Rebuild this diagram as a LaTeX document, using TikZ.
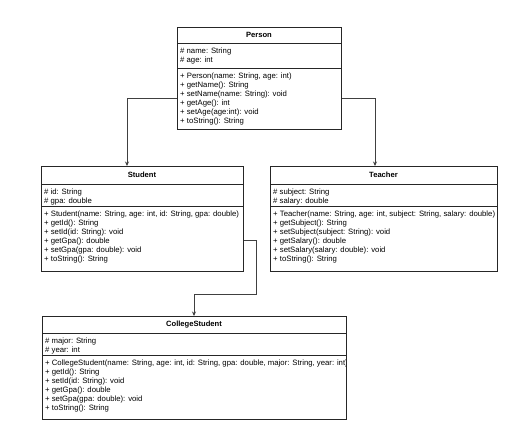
\documentclass[tikz,border=0pt]{standalone}
\usepackage{fontspec}
\setmainfont{Liberation Sans}
\usetikzlibrary{arrows.meta}
\tikzset{
  classbox/.style={draw=black!85, line width=0.7pt, anchor=north west, inner sep=0pt},
  divider/.style={draw=black!85, line width=0.7pt},
  title/.style={font=\fontsize{7.6}{9}\selectfont\bfseries, anchor=center, inner sep=0pt},
  members/.style={font=\fontsize{7.75}{9}\selectfont, anchor=north west, align=left, inner sep=0pt},
  conn/.style={draw=black!75, line width=0.7pt, -{Stealth[length=4.5pt,width=4pt]}},
}
\begin{document}
\begin{tikzpicture}[x=1pt,y=-1pt]
\useasboundingbox (0,0) rectangle (530,432);

% Person
\node[classbox, minimum width=164pt, minimum height=102pt] (person) at (177,27) {};
\draw[divider] (177,43) -- (341,43);
\draw[divider] (177,68) -- (341,68);
\node[title] (personT) at (259,35) {Person};
\node[members] (personA) at (180,47.5) {\# name: String\\\# age: int};
\node[members] (personM) at (180,72.5) {+ Person(name: String, age: int)\\+ getName(): String\\+ setName(name: String): void\\+ getAge(): int\\+ setAge(age:int): void\\+ toString(): String};

% Student
\node[classbox, minimum width=202pt, minimum height=105pt] (student) at (41,166) {};
\draw[divider] (41,184) -- (243,184);
\draw[divider] (41,206) -- (243,206);
\node[title] (studentT) at (142,175) {Student};
\node[members] (studentA) at (44,188.5) {\# id: String\\\# gpa: double};
\node[members] (studentM) at (44,210.5) {+ Student(name: String, age: int, id: String, gpa: double)\\+ getId(): String\\+ setId(id: String): void\\+ getGpa(): double\\+ setGpa(gpa: double): void\\+ toString(): String};

% Teacher
\node[classbox, minimum width=227pt, minimum height=105pt] (teacher) at (270,166) {};
\draw[divider] (270,184) -- (497,184);
\draw[divider] (270,206) -- (497,206);
\node[title] (teacherT) at (383.5,175) {Teacher};
\node[members] (teacherA) at (273,188.5) {\# subject: String\\\# salary: double};
\node[members] (teacherM) at (273,210.5) {+ Teacher(name: String, age: int, subject: String, salary: double)\\+ getSubject(): String\\+ setSubject(subject: String): void\\+ getSalary(): double\\+ setSalary(salary: double): void\\+ toString(): String};

% CollegeStudent
\node[classbox, minimum width=304pt, minimum height=103pt] (college) at (42,316) {};
\draw[divider] (42,333) -- (346,333);
\draw[divider] (42,355) -- (346,355);
\node[title] (collegeT) at (194,324.5) {CollegeStudent};
\node[members] (collegeA) at (45,337.5) {\# major: String\\\# year: int};
\begin{scope}
\clip (42,355) rectangle (345,419);
\node[members] (collegeM) at (45,359.5) {+ CollegeStudent(name: String, age: int, id: String, gpa: double, major: String, year: int)\\+ getId(): String\\+ setId(id: String): void\\+ getGpa(): double\\+ setGpa(gpa: double): void\\+ toString(): String};
\end{scope}

% connectors
\coordinate (p1) at (127,98);
\coordinate (p2) at (375,98);
\draw[conn] (person.west |- p1) -| (student.north -| p1);
\draw[conn] (person.east |- p2) -| (teacher.north -| p2);
\coordinate (s1) at (256,240);
\coordinate (s2) at (194,294);
\draw[conn] (student.east |- s1) -- (s1) -- (s1 |- s2) -- (s2) -- (college.north -| s2);
\end{tikzpicture}
\end{document}
